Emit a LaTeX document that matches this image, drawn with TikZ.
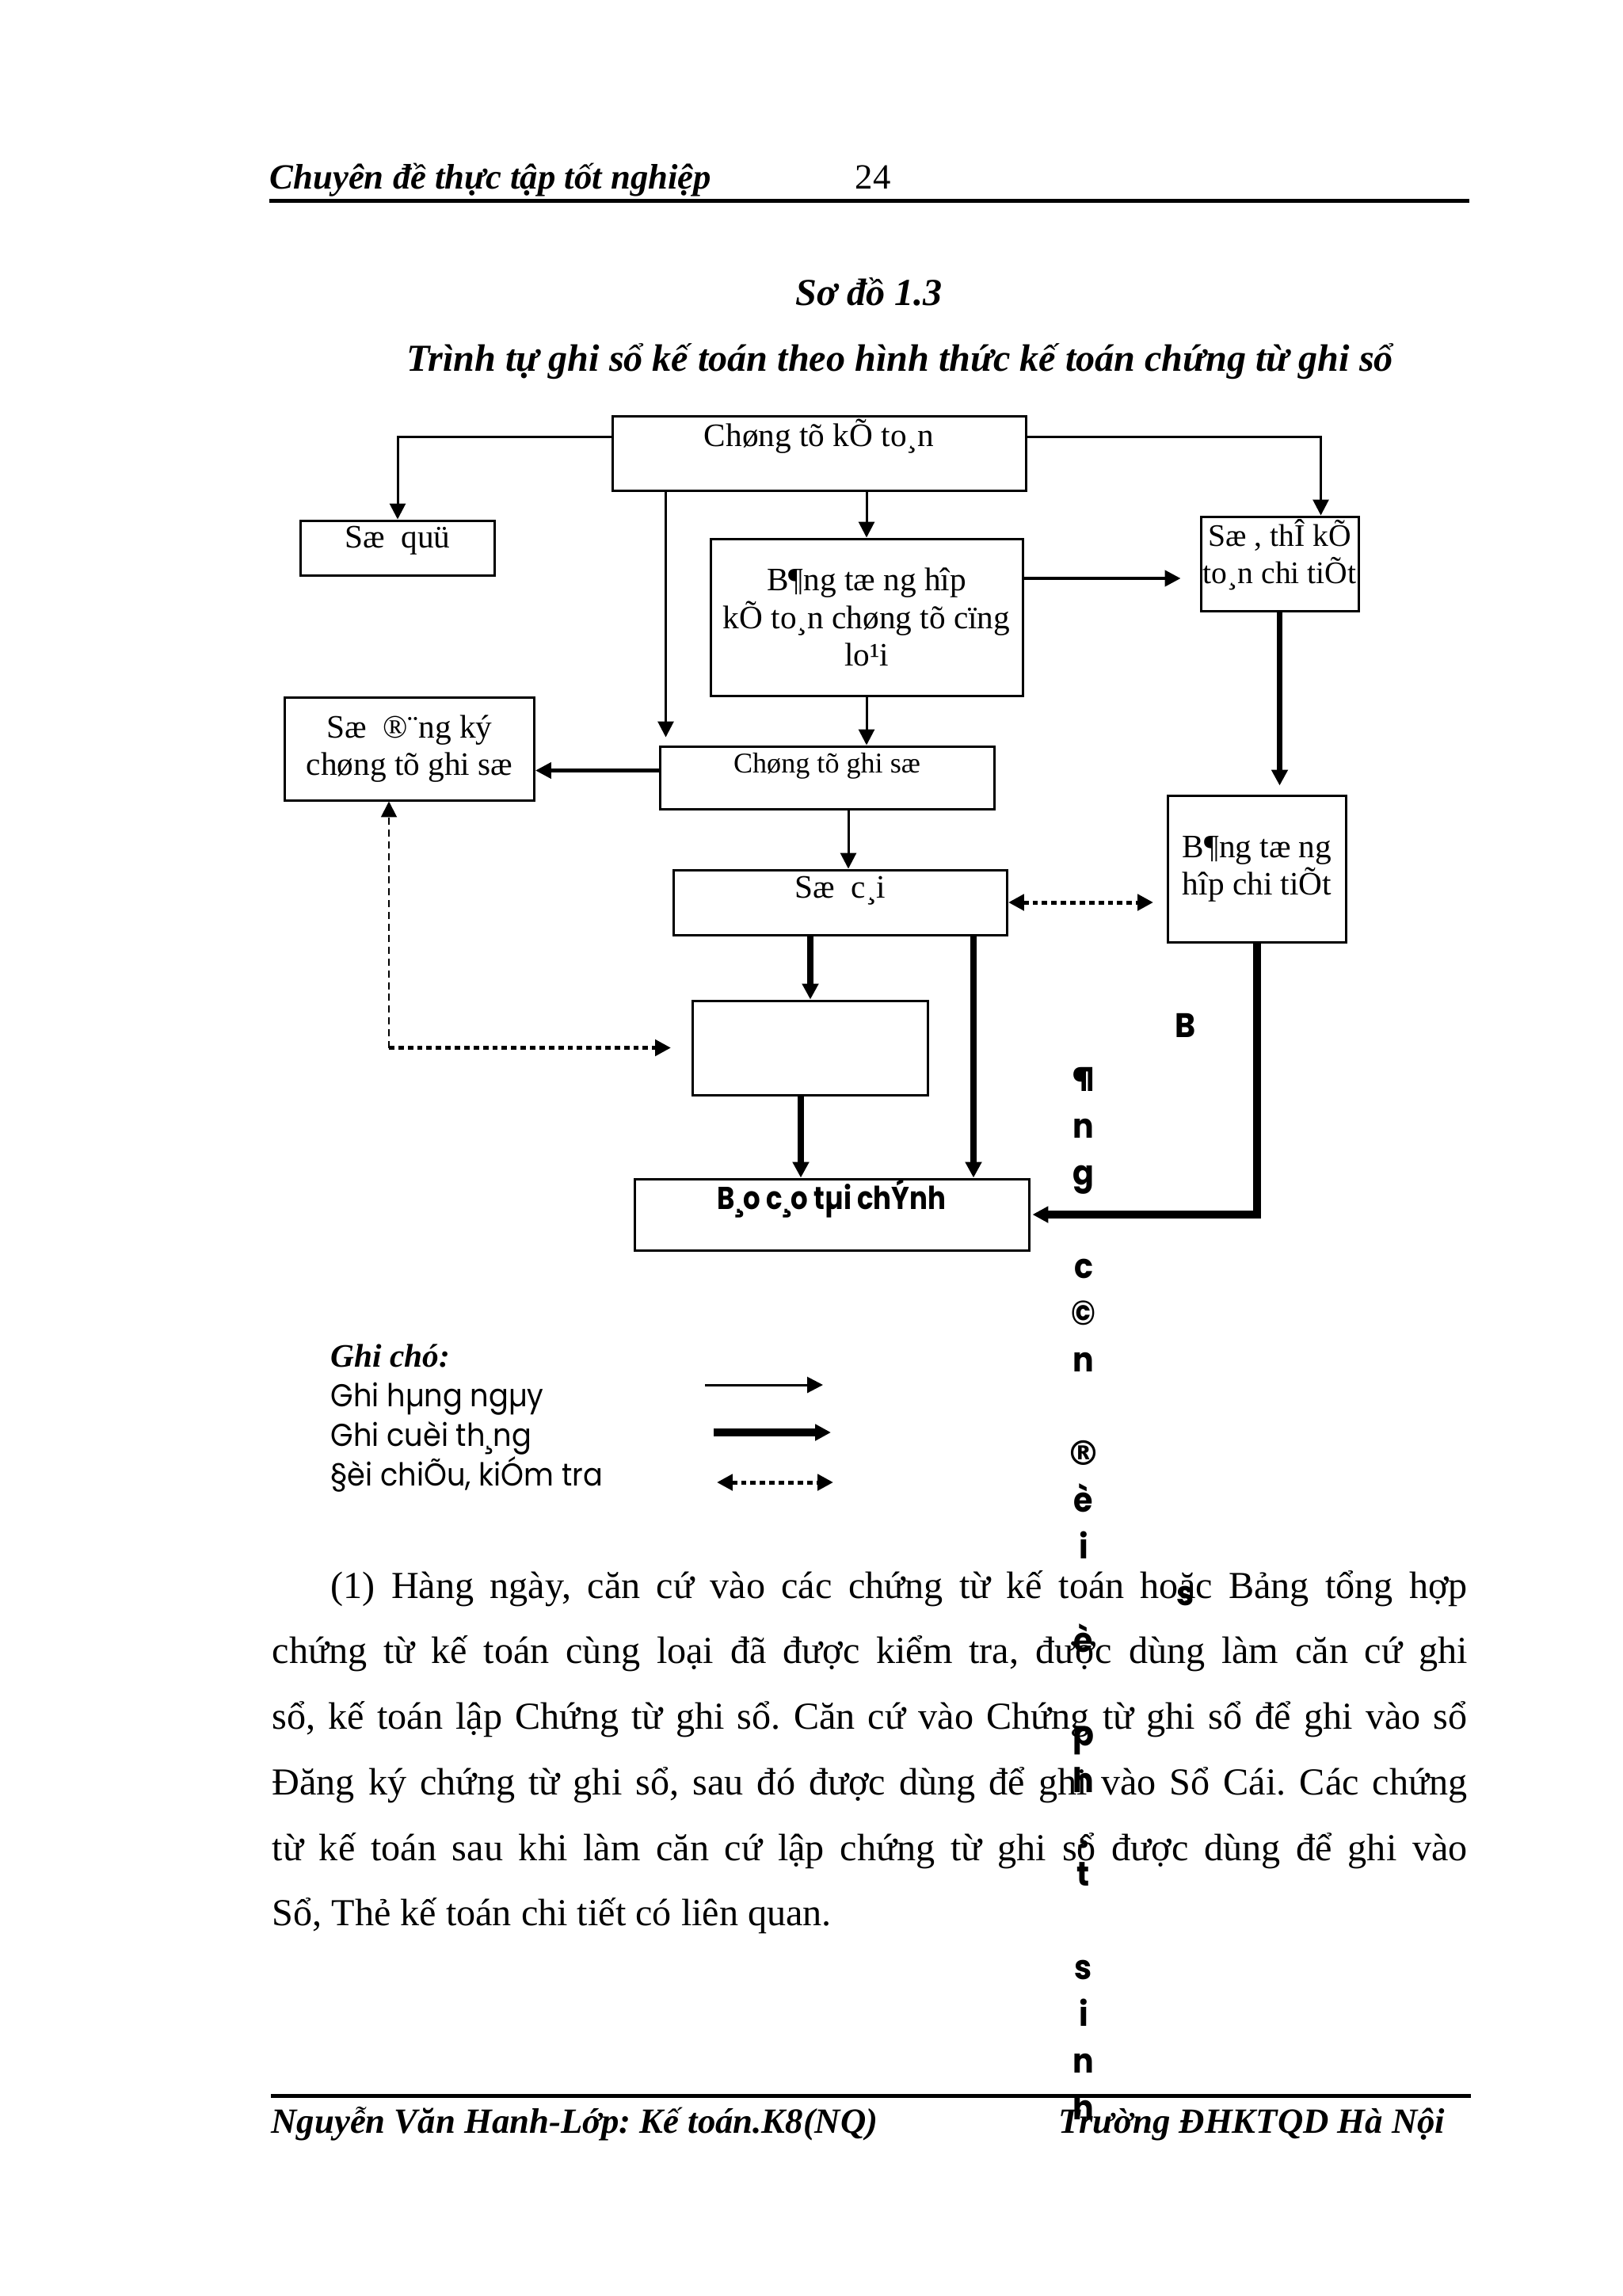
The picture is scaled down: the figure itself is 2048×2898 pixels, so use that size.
\documentclass[tikz,border=0pt]{standalone}
\usepackage{fontspec}
\setmainfont{Liberation Serif}
\newfontfamily\avant{Poppins}[FakeStretch=0.92]
\newfontfamily\avantc{Poppins}[FakeStretch=0.85]
\newfontfamily\dejavu{DejaVu Sans}
\usetikzlibrary{arrows.meta}
\newcommand\pxu{0.29067pt}
\frenchspacing

\tikzset{
  box/.style={draw, line width=0.87pt, rectangle, inner sep=0pt},
  boxtext/.style={font=\fontsize{12}{13.8}\selectfont, inner sep=0pt, align=center},
  daily/.style={line width=0.87pt},
  medium/.style={line width=1.25pt},
  monthend/.style={line width=2.3pt},
  check/.style={line width=1.45pt, dash pattern=on 2pt off 1.45pt},
  dashline/.style={line width=0.6pt, dash pattern=on 2.6pt off 1.7pt},
  vletter/.style={font=\avant\bfseries\fontsize{12.5}{14}\selectfont, inner sep=0pt, anchor=base},
  legendtext/.style={font=\avant\fontsize{11.6}{14}\selectfont, inner sep=0pt, anchor=base west},
  bodyline/.style={font=\fontsize{14}{24}\selectfont, inner sep=0pt, anchor=base west},
  headtext/.style={font=\fontsize{13}{15}\selectfont\bfseries\itshape, inner sep=0pt},
}

\begin{document}
\begin{tikzpicture}[x=0.29067pt, y=-0.29067pt, >={Triangle[length=5.8pt,width=5.8pt]}]
\fill[white] (0,0) rectangle (2048,2898);
\useasboundingbox (0,0) rectangle (2048,2898);
%% page head
\node[headtext, anchor=base west] (head) at (340,238) {Chuyên đề thực tập tốt nghiệp};
\node[anchor=base west, inner sep=0pt, font=\fontsize{13}{15}\selectfont] (page) at (1079,238) {24};
\draw[line width=1.45pt] (340,253.5) -- (1855,253.5);
\node[headtext, anchor=base, font=\fontsize{14}{16}\selectfont\bfseries\itshape] (sodo) at (1097,385) {Sơ đồ 1.3};
\node[headtext, anchor=base, font=\fontsize{14}{16}\selectfont\bfseries\itshape] (title) at (1136,468) {Trình tự ghi sổ kế toán theo hình thức kế toán chứng từ ghi sổ};
%%
\begin{scope}
  \node[box, minimum width=522*\pxu, minimum height=94*\pxu] (ctkt) at (1034,572) {};
  \node[box, minimum width=245*\pxu, minimum height=69*\pxu] (soquy) at (502,691.5) {};
  \node[box, boxtext, minimum width=394*\pxu, minimum height=198*\pxu] (bthkt) at (1094,779) {B¶ng tæ ng hîp\\kÕ to¸n chøng tõ cïng\\lo¹i};
  \node[box, minimum width=199*\pxu, minimum height=119*\pxu] (sothe) at (1615.5,711.5) {};
  \node[box, boxtext, minimum width=315*\pxu, minimum height=130*\pxu] (sodk) at (517,945) {Sæ\ \ ®¨ng ký\\chøng tõ ghi sæ};
  \node[box, minimum width=422*\pxu, minimum height=79*\pxu] (ctgs) at (1044,981.5) {};
  \node[box, minimum width=421*\pxu, minimum height=82*\pxu] (socai) at (1061,1139) {};
  \node[box, boxtext, minimum width=225*\pxu, minimum height=185*\pxu, font=\fontsize{12}{11.8}\selectfont] (bthct) at (1587,1096.5) {B¶ng tæ ng\\hîp chi tiÕt};
  \node[box, minimum width=297*\pxu, minimum height=119*\pxu] (bcdps) at (1023,1322.5) {};
  \node[box, minimum width=498*\pxu, minimum height=90*\pxu] (bctc) at (1050,1533) {};
\end{scope}
% texts at the top of the boxes
\node[boxtext, anchor=base] (ctkt-t) at ([yshift=-40*\pxu]ctkt.north) {Chøng tõ kÕ to¸n};
\node[boxtext, anchor=base] (soquy-t) at ([yshift=-36*\pxu]soquy.north) {Sæ\ \ quü};
\node[boxtext, font=\fontsize{11.5}{13.7}\selectfont] (sothe-t) at ([yshift=11*\pxu]sothe.center) {Sæ , thÎ kÕ\\to¸n chi tiÕt};
\node[boxtext, anchor=base, font=\fontsize{10.5}{12}\selectfont] (ctgs-t) at ([yshift=-35*\pxu]ctgs.north) {Chøng tõ ghi sæ};
\node[boxtext, anchor=base] (socai-t) at ([yshift=-37*\pxu]socai.north) {Sæ\ \ c¸i};
\node[boxtext, anchor=base, font=\avantc\bfseries\fontsize{11.6}{13}\selectfont] (bctc-t) at ([yshift=-40*\pxu]bctc.north) {B¸o c¸o tµi chÝnh};
%%
\begin{scope}
  \coordinate (c1) at ([xshift=69*\pxu]ctkt.south west);
  \coordinate (c2) at ([yshift=49*\pxu]bthkt.east);
  \coordinate (c3) at ([yshift=9*\pxu]ctgs.west);
  \coordinate (c4) at ([xshift=10*\pxu]socai.north);
  \coordinate (c5) at ([xshift=-26*\pxu]sodk.south);
  \coordinate (c6) at (c5 |- bcdps.west);
  \coordinate (c7) at ([xshift=-44*\pxu]socai.south east);
  \coordinate (c8) at ([xshift=-12*\pxu]bcdps.south);
  \draw[daily,->] ([yshift=21*\pxu]ctkt.west) -| (soquy.north);
  \draw[daily,->] ([yshift=21*\pxu]ctkt.east) -| ([xshift=52*\pxu]sothe.north);
  \draw[daily,->] (bthkt.north |- ctkt.south) -- (bthkt.north);
  \draw[daily,->,shorten >=10*\pxu] (c1) -- (c1 |- ctgs.north);
  \draw[daily,->] (bthkt.south) -- (bthkt.south |- ctgs.north);
  \draw[medium,->,shorten >=24*\pxu] (c2) -- (c2 -| sothe.west);
  \draw[medium,->] (c3) -- (c3 -| sodk.east);
  \draw[daily,->] (c4 |- ctgs.south) -- (c4);
  \draw[monthend,->,shorten >=11*\pxu] (sothe.south) -- (sothe.south |- bthct.north);
  \draw[check,<->,shorten >=17*\pxu] (socai.east) -- (socai.east -| bthct.west);
  \draw[dashline,->] (c6) -- (c5);
  \draw[check,->,shorten >=26*\pxu] (c6) -- (bcdps.west);
  \draw[monthend,->] (bcdps.north |- socai.south) -- (bcdps.north);
  \draw[monthend,->] (c7) -- (c7 |- bctc.north);
  \draw[monthend,->] (c8) -- (c8 |- bctc.north);
  \draw[monthend,line width=2.7pt,->,shorten >=3*\pxu] (bthct.south) |- (bctc.east);
\end{scope}
%% legend
\node[anchor=base west, inner sep=0pt, font=\fontsize{12}{14}\selectfont\bfseries\itshape] (ghichu) at (417,1725) {Ghi chó:};
\node[legendtext] (lg1) at (417,1775) {Ghi hµng ngµy};
\node[legendtext] (lg2) at (417,1825) {Ghi cuèi th¸ng};
\node[legendtext] (lg3) at (417,1875) {§èi chiÕu, kiÓm tra};
\coordinate (la1) at (890,1748); \coordinate (la2) at (1039,1748);
\coordinate (lb1) at (901,1808); \coordinate (lb2) at (1049,1808);
\coordinate (lc1) at (905,1871); \coordinate (lc2) at (1052,1871);
\draw[daily,->] (la1) -- (la2);
\draw[monthend,line width=2.9pt,->] (lb1) -- (lb2);
\draw[check,<->] (lc1) -- (lc2);
%% text below
\node[bodyline] (l1) at (417,2017) {\makebox[417.1pt][s]{(1) Hàng ngày, căn cứ vào các chứng từ kế toán hoặc Bảng tổng hợp}};
\node[bodyline] (l2) at (343,2099) {\makebox[438.6pt][s]{chứng từ kế toán cùng loại đã được kiểm tra, được dùng làm căn cứ ghi}};
\node[bodyline] (l3) at (343,2182) {\makebox[438.6pt][s]{sổ, kế toán lập Chứng từ ghi sổ. Căn cứ vào Chứng từ ghi sổ để ghi vào sổ}};
\node[bodyline] (l4) at (343,2265) {\makebox[438.6pt][s]{Đăng ký chứng từ ghi sổ, sau đó được dùng để ghi vào Sổ Cái. Các chứng}};
\node[bodyline] (l5) at (343,2348) {\makebox[438.6pt][s]{từ kế toán sau khi làm căn cứ lập chứng từ ghi sổ được dùng để ghi vào}};
\node[bodyline] (l6) at (343,2430) {Sổ, Thẻ kế toán chi tiết có liên quan.};
%% page foot
\draw[line width=1.45pt] (342,2645) -- (1857,2645);
\node[anchor=base west, inner sep=0pt, font=\fontsize{13}{15}\selectfont\bfseries\itshape] (foot1) at (342,2692) {Nguyễn Văn Hanh-Lớp: Kế toán.K8(NQ)};
\node[anchor=base east, inner sep=0pt, font=\fontsize{13}{15}\selectfont\bfseries\itshape] (foot2) at (1825,2692) {Trường ĐHKTQD Hà Nội};
%% letters of the text that runs out of the empty box
\node[vletter] (vB) at (1497,1309) {B};
\node[vletter] (vs) at (1497,2026) {s};
\foreach \k/\ch in {0/¶,1/n,2/g,4/c,5/©,6/n,8/{\dejavu\bfseries ®},9/è,10/i,12/è,14/p,15/h,16/¸,17/t,19/s,20/i,21/n,22/h}
  \node[vletter] (v\k) at (1368,1377+59*\k) {\ch};
%
\end{tikzpicture}
\end{document}
